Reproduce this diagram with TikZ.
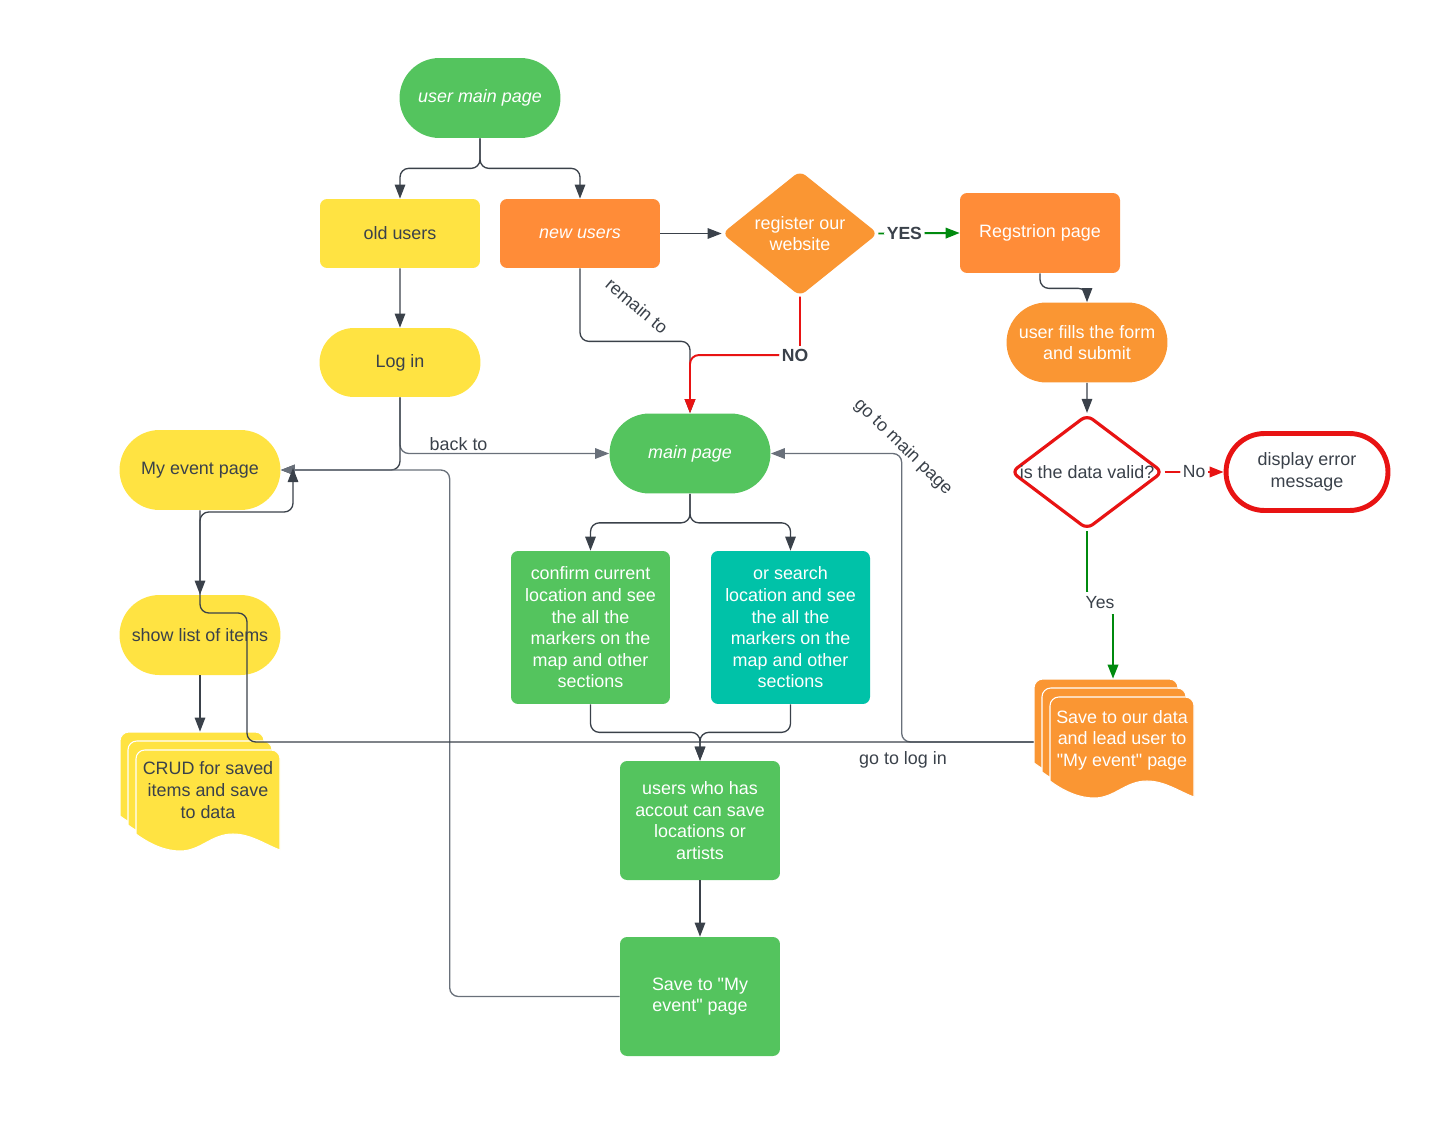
\documentclass[tikz,border=0pt]{standalone}
\usepackage{fontspec}
\setmainfont{Liberation Sans}[Ligatures=TeXOff]
\usepackage{tikz}
\usetikzlibrary{arrows.meta,shapes.geometric,shapes.misc}
\definecolor{lucidgreen}{RGB}{84, 196, 94}
\definecolor{lucidyellow}{RGB}{255, 227, 66}
\definecolor{lucidorange}{RGB}{255, 140, 56}
\definecolor{softorange}{RGB}{250, 150, 51}
\definecolor{lucidteal}{RGB}{0, 194, 168}
\definecolor{lucidred}{RGB}{232, 19, 19}
\definecolor{okgreen}{RGB}{0, 138, 14}
\definecolor{inkgray}{RGB}{58, 65, 74}
\definecolor{wiregray}{RGB}{105, 112, 122}

% stack of three pages with a wavy bottom, top left corner at (#1,#2)
\newcommand{\pagestack}[3]{%
  \foreach \dx/\dy in {0/0, 8/9, 16/18}{%
    \filldraw[fill=#3, draw=white, line width=0.6pt, rounded corners=5pt]
      (#1+\dx, #2+\dy+84) -- (#1+\dx, #2+\dy) -- (#1+\dx+144, #2+\dy) [sharp corners] -- (#1+\dx+144, #2+\dy+100)
      .. controls (#1+\dx+130, #2+\dy+95) and (#1+\dx+115, #2+\dy+84) .. (#1+\dx+97, #2+\dy+84)
      .. controls (#1+\dx+75, #2+\dy+84) and (#1+\dx+65, #2+\dy+101) .. (#1+\dx+44, #2+\dy+101)
      .. controls (#1+\dx+30, #2+\dy+101) and (#1+\dx+15, #2+\dy+95) .. (#1+\dx, #2+\dy+84) -- cycle;
  }}

\begin{document}
\begin{tikzpicture}[x=0.02cm, y=-0.02cm,
    base/.style={align=center, inner sep=2pt, font=\fontsize{10.2}{12.3}\selectfont},
    stadium/.style={base, rounded rectangle, minimum width=3.36cm, minimum height=1.6cm},
    card/.style={base, rectangle, rounded corners=4pt, minimum width=3.2cm, minimum height=1.38cm},
    decision/.style={base, diamond, inner sep=0pt, rounded corners=4pt, minimum width=3.12cm, minimum height=2.38cm},
    wire/.style={draw=wiregray, line width=0.75pt, rounded corners=5pt},
    flow/.style={wire, draw=inkgray, -{Triangle[length=8pt, width=6pt]}},
    yesflow/.style={flow, draw=okgreen, line width=1.1pt},
    noflow/.style={flow, draw=lucidred, line width=1.1pt},
    tag/.style={text=inkgray, fill=white, inner sep=1.5pt},
    note/.style={text=inkgray, inner sep=1pt, font=\fontsize{10.2}{12.3}\selectfont},
    slant/.style={font=\fontsize{10.2}{12.3}\selectfont\itshape}]
    \useasboundingbox (0,0) rectangle (1452,1122);

    % Top: entry and registration
    \node[stadium, fill=lucidgreen, text=white, slant]        (usermain) at (480,98) {user main page};
    \node[card, fill=lucidyellow, text=inkgray]               (olduser)  at (400,233.5) {old users};
    \node[card, fill=lucidorange, text=white, slant]          (newuser)  at (580,233.5) {new users};
    \node[decision, fill=softorange, text=white]              (register) at (800,233.5) {register our\\website};
    \node[card, fill=lucidorange, text=white, minimum height=1.6cm] (regpage) at (1040,233) {Regstrion page};
    \node[stadium, fill=softorange, text=white]               (fillform) at (1087,342.5) {user fills the form\\and submit};
    \node[decision, fill=white, draw=lucidred, line width=1.8pt, minimum width=3.04cm, minimum height=2.3cm, text=inkgray]
                                                              (valid)    at (1087,472) {\makebox[0pt]{is the data valid?}};
    \node[stadium, fill=white, draw=lucidred, line width=2.8pt, minimum width=3.38cm, minimum height=1.54cm, text=inkgray]
                                                              (errmsg)   at (1307,472) {display error\\message};

    % Left: old users
    \node[stadium, fill=lucidyellow, text=inkgray, minimum height=1.38cm] (login) at (400,362.5) {Log in};
    \node[stadium, fill=lucidyellow, text=inkgray]            (myevent)  at (200,470) {My event page};
    \node[stadium, fill=lucidyellow, text=inkgray]            (showlist) at (200,635) {show list of items};
    \pagestack{120}{732}{lucidyellow}
    \node[minimum width=3.2cm, minimum height=2.4cm]          (crud)     at (200,792) {};
    \node[base, text=inkgray]                                 (crudtext) at (208,790) {CRUD for saved\\items and save\\to data};

    % Middle: main page
    \node[stadium, fill=lucidgreen, text=white, slant]        (mainpage) at (690,453.5) {main page};
    \node[card, fill=lucidgreen, text=white, minimum width=3.18cm, minimum height=3.06cm] (confirm) at (590.5,627.5)
         {confirm current\\location and see\\the all the\\markers on the\\map and other\\sections};
    \node[card, fill=lucidteal, text=white, minimum width=3.18cm, minimum height=3.06cm]  (search)  at (790.5,627.5)
         {or search\\location and see\\the all the\\markers on the\\map and other\\sections};
    \node[card, fill=lucidgreen, text=white, minimum height=2.38cm] (canstore) at (700,820.5)
         {users who has\\accout can save\\locations or\\artists};
    \node[card, fill=lucidgreen, text=white, minimum height=2.38cm] (savemy)   at (700,996.5) {Save to "My\\event" page};

    % Right: saved registration
    \pagestack{1034}{679}{softorange}
    \node[minimum width=3.2cm, minimum height=2.52cm]         (savedata) at (1114,742) {};
    \node[base, text=white]                                   (savetext) at (1122,740) {Save to our data\\and lead user to\\"My event" page};
    \coordinate (evtback) at (293,468);

    % Connectors
    \draw[flow] (usermain.south) -- ++(0,30) -| (olduser.north);
    \draw[flow] (usermain.south) -- ++(0,30) -| (newuser.north);
    \draw[flow] (olduser) -- (login);
    \draw[flow] (newuser) -- (register);
    \draw[yesflow] (register.east) -- node[tag, pos=0.32, font=\bfseries] {YES} (regpage.west);
    \draw[flow] (newuser.south) -- ++(0,73) -| (mainpage.north);
    \node[note, rotate=-40] at (637,306) {remain to};
    \draw[noflow] (register.south) -- ++(0,58.5) node[tag, xshift=-0.1cm, font=\bfseries] {NO} -| (mainpage.north);
    \draw[flow] (regpage.south) -- ++(0,15) -| (fillform.north);
    \draw[flow] (fillform) -- (valid);
    \draw[noflow] (valid.east) -- node[tag] {No} (errmsg.west);
    \draw[yesflow, rounded corners=0pt] (valid.south) -- (1087,592) -- node[tag, inner sep=3pt] {Yes} (1113,614) -- (1113,0 |- savedata.north);

    \draw[flow, draw=wiregray] (login.south) |- node[note, above, pos=0.64] {back to} (mainpage.west);
    \draw[flow] (login.south) |- (myevent.east);
    \draw[flow, draw=wiregray] (savemy.west) -- ++(-170,0) |- (myevent.east);
    \draw[flow] (myevent) -- (showlist);
    \draw[flow] (showlist.south) -- (crud.north);

    \draw[flow] (mainpage.south) -- ++(0,29) -| (confirm.north);
    \draw[flow] (mainpage.south) -- ++(0,29) -| (search.north);
    \draw[flow] (confirm.south) -- ++(0,28) -| (canstore.north);
    \draw[flow] (search.south) -- ++(0,28) -| (canstore.north);
    \draw[flow] (canstore) -- (savemy);

    \draw[flow, draw=wiregray] (savedata.west) -- ++(-132,0) |- (mainpage.east);
    \node[note, rotate=-44] at (903,447) {go to main page};
    \draw[flow] (savedata.west) -| (247,613) -| (200,512) -| (evtback);
    \node[note] at (903,760) {go to log in};
\end{tikzpicture}
\end{document}
